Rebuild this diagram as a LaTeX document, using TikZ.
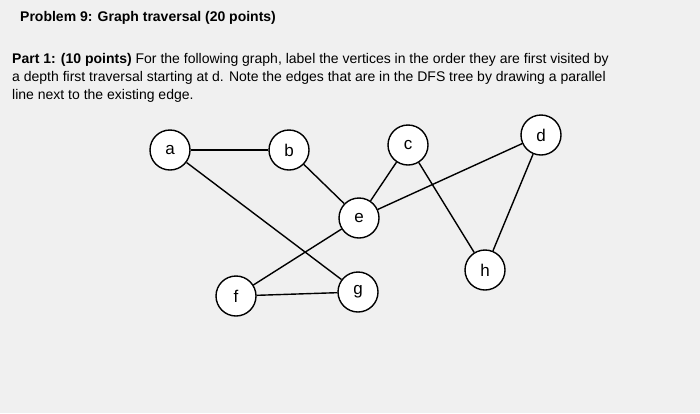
\documentclass[tikz,border=0pt]{standalone}
\usepackage{fontspec}
\setmainfont{Liberation Sans}
\begin{document}
\begin{tikzpicture}[x=1pt,y=-1pt,
  vtx/.style={circle,draw,line width=1.4pt,minimum size=40pt,inner sep=0pt,fill=white,font=\fontsize{17}{17}\selectfont},
  edge/.style={line width=1.4pt},
  txt/.style={anchor=west,inner sep=0pt,font=\fontsize{14}{16}\selectfont}]
\fill[gray!12] (0,0) rectangle (700,413);
\useasboundingbox (0,0) rectangle (700,413);
\node[txt] (t0) at (20,18) {\textbf{Problem 9: Graph traversal (20 points)}};
\node[txt] (t1) at (12,60) {\textbf{Part 1: (10 points)} For the following graph, label the vertices in the order they are first visited by};
\node[txt] (t2) at (12,78) {a depth first traversal starting at d. Note the edges that are in the DFS tree by drawing a parallel};
\node[txt] (t3) at (12,96) {line next to the existing edge.};
\node[vtx] (a) at (170,150) {a};
\node[vtx] (b) at (289,150) {b};
\node[vtx] (c) at (408,145) {c};
\node[vtx] (d) at (541,135) {d};
\node[vtx] (e) at (359,218) {e};
\node[vtx] (f) at (236,296) {f};
\node[vtx] (g) at (358,292) {g};
\node[vtx] (h) at (485,270) {h};
\draw[edge] (a) -- (b);
\draw[edge] (a) -- (g);
\draw[edge] (b) -- (e);
\draw[edge] (e) -- (d);
\draw[edge] (e) -- (f);
\draw[edge] (c) -- (e);
\draw[edge] (c) -- (h);
\draw[edge] (d) -- (h);
\draw[edge] (f) -- (g);
\end{tikzpicture}
\end{document}
